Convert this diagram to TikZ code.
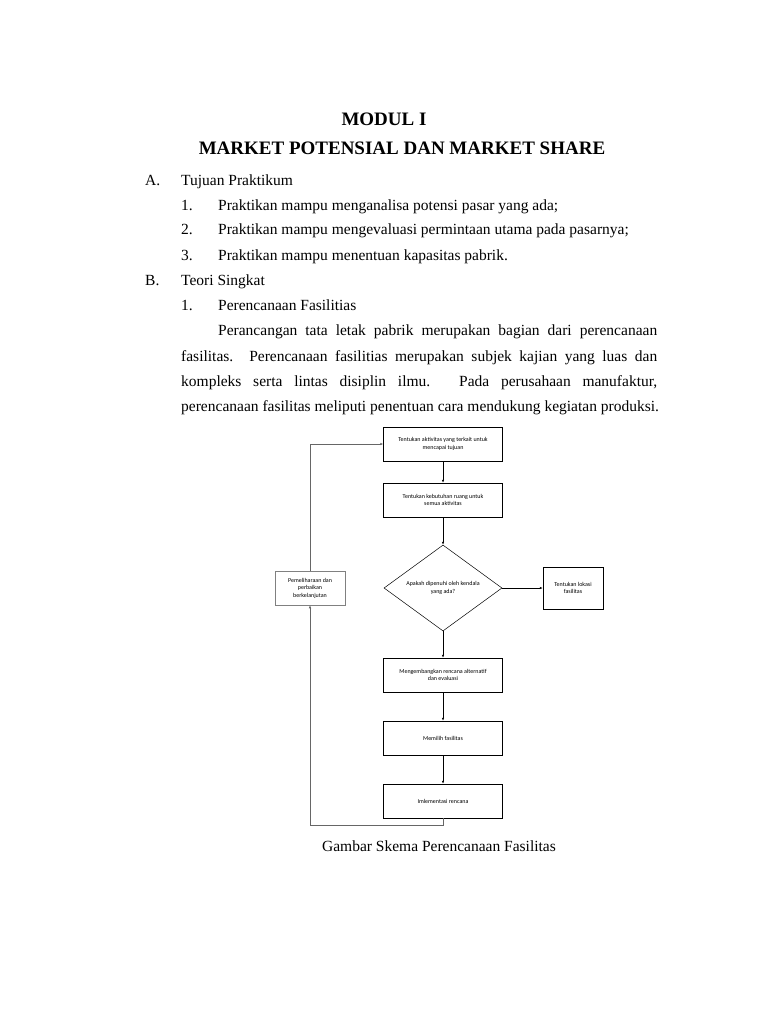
\documentclass[tikz,border=0pt]{standalone}
\usepackage{fontspec}
\setmainfont{Liberation Serif}
\newfontfamily\flowfont{Carlito}
\usetikzlibrary{shapes.geometric,arrows.meta}
\begin{document}
\begin{tikzpicture}[x=1pt,y=-1pt,
  txt/.style={anchor=base west,inner sep=0,font=\fontsize{15.5}{18}\selectfont},
  fbox/.style={draw,line width=0.5pt,minimum width=119pt,minimum height=34pt,align=center,font=\flowfont\fontsize{6}{7.5}\selectfont,inner sep=1pt},
  fl/.style={line width=0.6pt,-{Latex[length=3pt,width=2.5pt]}},
  gl/.style={line width=0.6pt,draw=gray!80!black,-{Latex[length=3pt,width=2.5pt]}}]
\useasboundingbox (0,0) rectangle (768,1024);
\node[font=\bfseries\fontsize{19}{22}\selectfont,anchor=base] (t1) at (384,126) {MODUL I};
\node[font=\bfseries\fontsize{19}{22}\selectfont,anchor=base] (t2) at (402,155) {MARKET POTENSIAL DAN MARKET SHARE};
\node[txt] (a) at (145,186) {A.};
\node[txt] (a0) at (181,186) {Tujuan Praktikum};
\node[txt] (a1n) at (181,211) {1.};
\node[txt] (a1) at (218,211) {Praktikan mampu menganalisa potensi pasar yang ada;};
\node[txt] (a2n) at (181,235) {2.};
\node[txt] (a2) at (218,235) {Praktikan mampu mengevaluasi permintaan utama pada pasarnya;};
\node[txt] (a3n) at (181,260) {3.};
\node[txt] (a3) at (218,260) {Praktikan mampu menentuan kapasitas pabrik.};
\node[txt] (b) at (145,285) {B.};
\node[txt] (b0) at (181,285) {Teori Singkat};
\node[txt] (b1n) at (181,310) {1.};
\node[txt] (b1) at (218,310) {Perencanaan Fasilitias};
\node[txt] (p1) at (218,335) {\makebox[439pt][s]{Perancangan tata letak pabrik merupakan bagian dari perencanaan}};
\node[txt] (p2) at (181,361) {\makebox[476pt][s]{fasilitas. Perencanaan fasilitias merupakan subjek kajian yang luas dan}};
\node[txt] (p3) at (181,386) {\makebox[476pt][s]{kompleks serta lintas disiplin ilmu. Pada perusahaan manufaktur,}};
\node[txt] (p4) at (181,411) {perencanaan fasilitas meliputi penentuan cara mendukung kegiatan produksi.};

\node[fbox] (n1) at (443,444) {Tentukan aktivitas yang terkait untuk\\mencapai tujuan};
\node[fbox] (n2) at (443,500) {Tentukan kebutuhan ruang untuk\\semua aktivitas};
\node[draw,diamond,aspect=1.37,minimum width=118pt,minimum height=86pt,inner sep=0,line width=0.5pt,align=center,font=\flowfont\fontsize{6}{7.5}\selectfont] (d) at (443,588) {Apakah dipenuhi oleh kendala\\yang ada?};
\node[fbox,minimum width=60pt,minimum height=42pt] (r) at (573,588) {Tentukan lokasi\\fasilitas};
\node[fbox,draw=gray,minimum width=70pt,minimum height=34pt] (l) at (310,588) {Pemeliharaan dan\\perbaikan\\berkelanjutan};
\node[fbox] (n3) at (443,675) {Mengembangkan rencana alternatif\\dan evaluasi};
\node[fbox] (n4) at (443,738) {Memilih fasilitas};
\node[fbox] (n5) at (443,801) {Imlementasi rencana};
\coordinate (c1) at (443,825);
\coordinate (c2) at (310,825);
\draw[fl] (n1) -- (n2);
\draw[fl] (n2) -- (d);
\draw[fl] (d) -- (r);
\draw[fl] (d) -- (n3);
\draw[fl] (n3) -- (n4);
\draw[fl] (n4) -- (n5);
\draw[gl] (n5.south) -- (c1) -- (c2) -- (l.south);
\draw[gl] (l.north) |- (n1.west);
\node[font=\fontsize{15.5}{18}\selectfont,anchor=base] (cap) at (439,851) {Gambar Skema Perencanaan Fasilitas};
\end{tikzpicture}
\end{document}
